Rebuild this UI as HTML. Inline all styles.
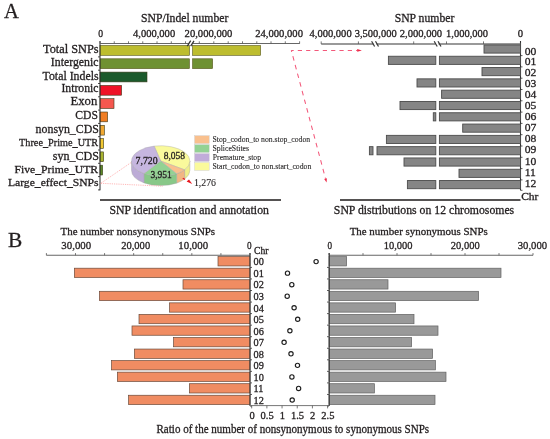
<!DOCTYPE html>
<html><head><meta charset="utf-8"><title>SNP figure</title>
<style>
html,body{margin:0;padding:0;background:#fff;}
body{width:550px;height:439px;overflow:hidden;}
svg{display:block;font-family:"Liberation Serif",serif;}
text{will-change:transform;stroke:#231f20;stroke-width:0.3px;}
</style></head>
<body>
<svg width="550" height="439" viewBox="0 0 550 439">
<rect x="0" y="0" width="550" height="439" fill="#ffffff"/>
<text x="4.04" y="18.40" font-size="21.7" text-anchor="start" textLength="14.85" lengthAdjust="spacingAndGlyphs" fill="#231f20">A</text>
<text x="8.13" y="247.00" font-size="21" text-anchor="start" textLength="14.27" lengthAdjust="spacingAndGlyphs" fill="#231f20">B</text>
<text x="140.97" y="21.50" font-size="12" text-anchor="start" textLength="87.39" lengthAdjust="spacingAndGlyphs" fill="#231f20">SNP/Indel number</text>
<text x="98.28" y="36.70" font-size="10" text-anchor="start" textLength="4.83" lengthAdjust="spacingAndGlyphs" fill="#231f20">0</text>
<text x="133.04" y="36.60" font-size="10" text-anchor="start" textLength="42.11" lengthAdjust="spacingAndGlyphs" fill="#231f20">4,000,000</text>
<text x="184.58" y="36.60" font-size="10" text-anchor="start" textLength="47.77" lengthAdjust="spacingAndGlyphs" fill="#231f20">20,000,000</text>
<text x="255.28" y="36.60" font-size="10" text-anchor="start" textLength="47.67" lengthAdjust="spacingAndGlyphs" fill="#231f20">24,000,000</text>
<text x="43.03" y="53.00" font-size="11.6" text-anchor="start" textLength="55.57" lengthAdjust="spacingAndGlyphs" fill="#231f20">Total SNPs</text>
<rect x="100.00" y="45.50" width="89.40" height="9.80" fill="#bdbd2f" stroke="#55551a" stroke-width="0.6"/>
<rect x="192.60" y="45.50" width="68.00" height="9.80" fill="#bdbd2f" stroke="#55551a" stroke-width="0.6"/>
<text x="50.82" y="66.30" font-size="12" text-anchor="start" textLength="47.69" lengthAdjust="spacingAndGlyphs" fill="#231f20">Intergenic</text>
<rect x="100.00" y="58.80" width="89.40" height="9.80" fill="#6f9132" stroke="#55551a" stroke-width="0.6"/>
<rect x="192.60" y="58.80" width="20.00" height="9.80" fill="#6f9132" stroke="#55551a" stroke-width="0.6"/>
<text x="42.54" y="79.80" font-size="11.6" text-anchor="start" textLength="56.04" lengthAdjust="spacingAndGlyphs" fill="#231f20">Total Indels</text>
<rect x="100.00" y="72.10" width="47.00" height="9.80" fill="#1b5a2c" stroke="#3a3a1a" stroke-width="0.6"/>
<text x="61.43" y="91.60" font-size="12" text-anchor="start" textLength="37.08" lengthAdjust="spacingAndGlyphs" fill="#231f20">Intronic</text>
<rect x="100.00" y="85.40" width="21.60" height="9.80" fill="#ee1327" stroke="#3a3a1a" stroke-width="0.6"/>
<text x="70.48" y="105.10" font-size="13.0" text-anchor="start" textLength="26.76" lengthAdjust="spacingAndGlyphs" fill="#231f20">Exon</text>
<rect x="100.00" y="98.70" width="14.00" height="9.80" fill="#f5574e" stroke="#3a3a1a" stroke-width="0.6"/>
<text x="75.27" y="119.20" font-size="12.8" text-anchor="start" textLength="22.60" lengthAdjust="spacingAndGlyphs" fill="#231f20">CDS</text>
<rect x="100.00" y="112.00" width="7.60" height="9.80" fill="#f07d22" stroke="#3a3a1a" stroke-width="0.6"/>
<text x="35.58" y="133.20" font-size="12" text-anchor="start" textLength="63.31" lengthAdjust="spacingAndGlyphs" fill="#231f20">nonsyn_CDS</text>
<rect x="100.00" y="125.30" width="4.40" height="9.80" fill="#f0a832" stroke="#3a3a1a" stroke-width="0.6"/>
<text x="19.07" y="146.30" font-size="11.2" text-anchor="start" textLength="79.10" lengthAdjust="spacingAndGlyphs" fill="#231f20">Three_Prime_UTR</text>
<rect x="100.00" y="138.60" width="3.60" height="9.80" fill="#f2c832" stroke="#3a3a1a" stroke-width="0.6"/>
<text x="52.76" y="159.60" font-size="12" text-anchor="start" textLength="46.15" lengthAdjust="spacingAndGlyphs" fill="#231f20">syn_CDS</text>
<rect x="100.00" y="151.90" width="3.60" height="9.80" fill="#a9b430" stroke="#3a3a1a" stroke-width="0.6"/>
<text x="14.41" y="173.00" font-size="11" text-anchor="start" textLength="83.74" lengthAdjust="spacingAndGlyphs" fill="#231f20">Five_Prime_UTR</text>
<rect x="100.00" y="165.20" width="2.60" height="9.80" fill="#5b8a28" stroke="#3a3a1a" stroke-width="0.6"/>
<text x="7.91" y="185.60" font-size="10.8" text-anchor="start" textLength="90.66" lengthAdjust="spacingAndGlyphs" fill="#231f20">Large_effect_SNPs</text>
<line x1="100.00" y1="41.00" x2="100.00" y2="190.30" stroke="#2a2a2a" stroke-width="1.0"/>
<line x1="100.00" y1="43.50" x2="189.00" y2="43.50" stroke="#666" stroke-width="1.2"/>
<line x1="193.00" y1="43.50" x2="299.80" y2="43.50" stroke="#666" stroke-width="1.2"/>
<line x1="100.00" y1="43.50" x2="100.00" y2="41.30" stroke="#555" stroke-width="0.8"/>
<line x1="114.25" y1="43.50" x2="114.25" y2="41.30" stroke="#555" stroke-width="0.8"/>
<line x1="128.50" y1="43.50" x2="128.50" y2="41.30" stroke="#555" stroke-width="0.8"/>
<line x1="142.75" y1="43.50" x2="142.75" y2="41.30" stroke="#555" stroke-width="0.8"/>
<line x1="157.00" y1="43.50" x2="157.00" y2="41.30" stroke="#555" stroke-width="0.8"/>
<line x1="171.30" y1="43.50" x2="171.30" y2="41.30" stroke="#555" stroke-width="0.8"/>
<line x1="185.50" y1="43.50" x2="185.50" y2="41.30" stroke="#555" stroke-width="0.8"/>
<line x1="199.30" y1="43.50" x2="199.30" y2="41.30" stroke="#555" stroke-width="0.8"/>
<line x1="213.80" y1="43.50" x2="213.80" y2="41.30" stroke="#555" stroke-width="0.8"/>
<line x1="228.20" y1="43.50" x2="228.20" y2="41.30" stroke="#555" stroke-width="0.8"/>
<line x1="242.50" y1="43.50" x2="242.50" y2="41.30" stroke="#555" stroke-width="0.8"/>
<line x1="256.80" y1="43.50" x2="256.80" y2="41.30" stroke="#555" stroke-width="0.8"/>
<line x1="271.00" y1="43.50" x2="271.00" y2="41.30" stroke="#555" stroke-width="0.8"/>
<line x1="285.30" y1="43.50" x2="285.30" y2="41.30" stroke="#555" stroke-width="0.8"/>
<line x1="299.60" y1="43.50" x2="299.60" y2="41.30" stroke="#555" stroke-width="0.8"/>
<line x1="187.30" y1="46.20" x2="190.70" y2="40.70" stroke="#333" stroke-width="1.25"/>
<line x1="190.70" y1="46.20" x2="194.00" y2="40.90" stroke="#333" stroke-width="1.25"/>
<line x1="98.00" y1="56.90" x2="100.00" y2="56.90" stroke="#222" stroke-width="0.8"/>
<line x1="98.00" y1="70.20" x2="100.00" y2="70.20" stroke="#222" stroke-width="0.8"/>
<line x1="98.00" y1="83.50" x2="100.00" y2="83.50" stroke="#222" stroke-width="0.8"/>
<line x1="98.00" y1="96.80" x2="100.00" y2="96.80" stroke="#222" stroke-width="0.8"/>
<line x1="98.00" y1="110.10" x2="100.00" y2="110.10" stroke="#222" stroke-width="0.8"/>
<line x1="98.00" y1="123.40" x2="100.00" y2="123.40" stroke="#222" stroke-width="0.8"/>
<line x1="98.00" y1="136.70" x2="100.00" y2="136.70" stroke="#222" stroke-width="0.8"/>
<line x1="98.00" y1="150.00" x2="100.00" y2="150.00" stroke="#222" stroke-width="0.8"/>
<line x1="98.00" y1="163.30" x2="100.00" y2="163.30" stroke="#222" stroke-width="0.8"/>
<line x1="98.00" y1="176.60" x2="100.00" y2="176.60" stroke="#222" stroke-width="0.8"/>
<line x1="98.00" y1="189.90" x2="100.00" y2="189.90" stroke="#222" stroke-width="0.8"/>
<text x="394.67" y="21.50" font-size="12" text-anchor="start" textLength="59.69" lengthAdjust="spacingAndGlyphs" fill="#231f20">SNP number</text>
<text x="309.54" y="36.60" font-size="10" text-anchor="start" textLength="42.11" lengthAdjust="spacingAndGlyphs" fill="#231f20">4,000,000</text>
<text x="354.75" y="36.60" font-size="10" text-anchor="start" textLength="41.90" lengthAdjust="spacingAndGlyphs" fill="#231f20">3,500,000</text>
<text x="399.78" y="36.60" font-size="10" text-anchor="start" textLength="42.37" lengthAdjust="spacingAndGlyphs" fill="#231f20">2,000,000</text>
<text x="446.13" y="36.60" font-size="10" text-anchor="start" textLength="41.82" lengthAdjust="spacingAndGlyphs" fill="#231f20">1,000,000</text>
<text x="517.75" y="36.80" font-size="10" text-anchor="start" textLength="5.31" lengthAdjust="spacingAndGlyphs" fill="#231f20">0</text>
<line x1="520.50" y1="41.00" x2="520.50" y2="190.30" stroke="#333" stroke-width="1.1"/>
<line x1="321.20" y1="44.00" x2="373.50" y2="44.00" stroke="#777" stroke-width="1.3"/>
<line x1="376.50" y1="44.00" x2="435.50" y2="44.00" stroke="#777" stroke-width="1.3"/>
<line x1="438.50" y1="44.00" x2="520.50" y2="44.00" stroke="#777" stroke-width="1.3"/>
<line x1="321.20" y1="44.00" x2="321.20" y2="41.40" stroke="#555" stroke-width="0.8"/>
<line x1="358.40" y1="44.00" x2="358.40" y2="41.40" stroke="#555" stroke-width="0.8"/>
<line x1="413.70" y1="44.00" x2="413.70" y2="41.40" stroke="#555" stroke-width="0.8"/>
<line x1="446.50" y1="44.00" x2="446.50" y2="41.40" stroke="#555" stroke-width="0.8"/>
<line x1="483.50" y1="44.00" x2="483.50" y2="41.40" stroke="#555" stroke-width="0.8"/>
<line x1="371.60" y1="41.30" x2="374.60" y2="46.50" stroke="#3a3a3a" stroke-width="1.25"/>
<line x1="375.50" y1="41.30" x2="378.50" y2="46.50" stroke="#3a3a3a" stroke-width="1.25"/>
<line x1="434.20" y1="41.30" x2="437.20" y2="46.50" stroke="#3a3a3a" stroke-width="1.25"/>
<line x1="438.00" y1="41.30" x2="441.00" y2="46.50" stroke="#3a3a3a" stroke-width="1.25"/>
<rect x="484.00" y="44.95" width="36.50" height="8.15" fill="#858585" stroke="#4c4c4c" stroke-width="0.9"/>
<text x="524.66" y="54.80" font-size="11.30" text-anchor="start" textLength="11.63" lengthAdjust="spacingAndGlyphs" fill="#231f20">00</text>
<rect x="388.40" y="56.25" width="47.40" height="8.15" fill="#858585" stroke="#4c4c4c" stroke-width="0.9"/>
<rect x="439.40" y="56.25" width="81.10" height="8.15" fill="#858585" stroke="#4c4c4c" stroke-width="0.9"/>
<text x="524.66" y="64.80" font-size="11.30" text-anchor="start" textLength="11.63" lengthAdjust="spacingAndGlyphs" fill="#231f20">01</text>
<line x1="520.50" y1="55.60" x2="522.50" y2="55.60" stroke="#333" stroke-width="0.8"/>
<rect x="482.00" y="67.55" width="38.50" height="8.15" fill="#858585" stroke="#4c4c4c" stroke-width="0.9"/>
<text x="524.66" y="75.60" font-size="11.30" text-anchor="start" textLength="11.63" lengthAdjust="spacingAndGlyphs" fill="#231f20">02</text>
<line x1="520.50" y1="66.90" x2="522.50" y2="66.90" stroke="#333" stroke-width="0.8"/>
<rect x="417.00" y="78.85" width="18.80" height="8.15" fill="#858585" stroke="#4c4c4c" stroke-width="0.9"/>
<rect x="439.40" y="78.85" width="81.10" height="8.15" fill="#858585" stroke="#4c4c4c" stroke-width="0.9"/>
<text x="524.66" y="86.60" font-size="11.30" text-anchor="start" textLength="11.63" lengthAdjust="spacingAndGlyphs" fill="#231f20">03</text>
<line x1="520.50" y1="78.20" x2="522.50" y2="78.20" stroke="#333" stroke-width="0.8"/>
<rect x="441.60" y="90.15" width="78.90" height="8.15" fill="#858585" stroke="#4c4c4c" stroke-width="0.9"/>
<text x="524.66" y="97.50" font-size="11.30" text-anchor="start" textLength="11.63" lengthAdjust="spacingAndGlyphs" fill="#231f20">04</text>
<line x1="520.50" y1="89.50" x2="522.50" y2="89.50" stroke="#333" stroke-width="0.8"/>
<rect x="400.00" y="101.45" width="35.80" height="8.15" fill="#858585" stroke="#4c4c4c" stroke-width="0.9"/>
<rect x="439.40" y="101.45" width="81.10" height="8.15" fill="#858585" stroke="#4c4c4c" stroke-width="0.9"/>
<text x="524.66" y="108.60" font-size="11.30" text-anchor="start" textLength="11.63" lengthAdjust="spacingAndGlyphs" fill="#231f20">05</text>
<line x1="520.50" y1="100.80" x2="522.50" y2="100.80" stroke="#333" stroke-width="0.8"/>
<rect x="433.30" y="112.75" width="2.50" height="8.15" fill="#858585" stroke="#4c4c4c" stroke-width="0.9"/>
<rect x="439.40" y="112.75" width="81.10" height="8.15" fill="#858585" stroke="#4c4c4c" stroke-width="0.9"/>
<text x="524.66" y="119.80" font-size="11.30" text-anchor="start" textLength="11.63" lengthAdjust="spacingAndGlyphs" fill="#231f20">06</text>
<line x1="520.50" y1="112.10" x2="522.50" y2="112.10" stroke="#333" stroke-width="0.8"/>
<rect x="462.70" y="124.05" width="57.80" height="8.15" fill="#858585" stroke="#4c4c4c" stroke-width="0.9"/>
<text x="524.66" y="130.70" font-size="11.30" text-anchor="start" textLength="11.63" lengthAdjust="spacingAndGlyphs" fill="#231f20">07</text>
<line x1="520.50" y1="123.40" x2="522.50" y2="123.40" stroke="#333" stroke-width="0.8"/>
<rect x="386.40" y="135.35" width="49.40" height="8.15" fill="#858585" stroke="#4c4c4c" stroke-width="0.9"/>
<rect x="439.40" y="135.35" width="81.10" height="8.15" fill="#858585" stroke="#4c4c4c" stroke-width="0.9"/>
<text x="524.66" y="142.20" font-size="11.30" text-anchor="start" textLength="11.63" lengthAdjust="spacingAndGlyphs" fill="#231f20">08</text>
<line x1="520.50" y1="134.70" x2="522.50" y2="134.70" stroke="#333" stroke-width="0.8"/>
<rect x="369.40" y="146.65" width="3.60" height="8.15" fill="#858585" stroke="#4c4c4c" stroke-width="0.9"/>
<rect x="377.00" y="146.65" width="58.80" height="8.15" fill="#858585" stroke="#4c4c4c" stroke-width="0.9"/>
<rect x="439.40" y="146.65" width="81.10" height="8.15" fill="#858585" stroke="#4c4c4c" stroke-width="0.9"/>
<text x="524.66" y="153.40" font-size="11.30" text-anchor="start" textLength="11.63" lengthAdjust="spacingAndGlyphs" fill="#231f20">09</text>
<line x1="520.50" y1="146.00" x2="522.50" y2="146.00" stroke="#333" stroke-width="0.8"/>
<rect x="404.00" y="157.95" width="31.80" height="8.15" fill="#858585" stroke="#4c4c4c" stroke-width="0.9"/>
<rect x="439.40" y="157.95" width="81.10" height="8.15" fill="#858585" stroke="#4c4c4c" stroke-width="0.9"/>
<text x="524.66" y="164.80" font-size="11.30" text-anchor="start" textLength="11.63" lengthAdjust="spacingAndGlyphs" fill="#231f20">10</text>
<line x1="520.50" y1="157.30" x2="522.50" y2="157.30" stroke="#333" stroke-width="0.8"/>
<rect x="459.00" y="169.25" width="61.50" height="8.15" fill="#858585" stroke="#4c4c4c" stroke-width="0.9"/>
<text x="524.66" y="176.20" font-size="11.30" text-anchor="start" textLength="11.20" lengthAdjust="spacingAndGlyphs" fill="#231f20">11</text>
<line x1="520.50" y1="168.60" x2="522.50" y2="168.60" stroke="#333" stroke-width="0.8"/>
<rect x="407.40" y="180.55" width="28.40" height="8.15" fill="#858585" stroke="#4c4c4c" stroke-width="0.9"/>
<rect x="439.40" y="180.55" width="81.10" height="8.15" fill="#858585" stroke="#4c4c4c" stroke-width="0.9"/>
<text x="524.66" y="187.20" font-size="11.30" text-anchor="start" textLength="11.63" lengthAdjust="spacingAndGlyphs" fill="#231f20">12</text>
<line x1="520.50" y1="179.90" x2="522.50" y2="179.90" stroke="#333" stroke-width="0.8"/>
<line x1="520.50" y1="190.30" x2="522.50" y2="190.30" stroke="#333" stroke-width="0.8"/>
<text x="521.18" y="200.00" font-size="11" text-anchor="start" textLength="17.28" lengthAdjust="spacingAndGlyphs" fill="#231f20">Chr</text>
<line x1="100.00" y1="200.00" x2="281.00" y2="200.00" stroke="#1c1819" stroke-width="1.7"/>
<line x1="340.00" y1="200.00" x2="520.50" y2="200.00" stroke="#1c1819" stroke-width="1.7"/>
<text x="109.46" y="214.00" font-size="12" text-anchor="start" textLength="159.46" lengthAdjust="spacingAndGlyphs" fill="#231f20">SNP identification and annotation</text>
<text x="333.86" y="213.80" font-size="12" text-anchor="start" textLength="180.32" lengthAdjust="spacingAndGlyphs" fill="#231f20">SNP distributions on 12 chromosomes</text>
<path d="M189.90,161.00 A29.2,15.3 0 0 1 184.59,169.80 L184.59,179.10 A29.2,15.3 0 0 0 189.90,170.30 Z" fill="#efef8c" stroke="#a0a0a0" stroke-width="0.4"/>
<path d="M184.59,169.80 A29.2,15.3 0 0 1 176.61,173.83 L176.61,183.13 A29.2,15.3 0 0 0 184.59,179.10 Z" fill="#f2b684" stroke="#a0a0a0" stroke-width="0.4"/>
<path d="M176.61,173.83 A29.2,15.3 0 0 1 144.08,173.58 L144.08,182.88 A29.2,15.3 0 0 0 176.61,183.13 Z" fill="#88c888" stroke="#a0a0a0" stroke-width="0.4"/>
<path d="M144.08,173.58 A29.2,15.3 0 0 1 131.50,161.00 L131.50,170.30 A29.2,15.3 0 0 0 144.08,182.88 Z" fill="#bcabd6" stroke="#a0a0a0" stroke-width="0.4"/>
<path d="M160.7,161.0 L154.13,146.09 A29.2,15.3 0 0 1 184.59,169.80 Z" fill="#fafa9c" stroke="#a8a8a8" stroke-width="0.4"/>
<path d="M160.7,161.0 L184.59,169.80 A29.2,15.3 0 0 1 176.61,173.83 Z" fill="#f9c08e" stroke="#a8a8a8" stroke-width="0.4"/>
<path d="M160.7,161.0 L176.61,173.83 A29.2,15.3 0 0 1 144.08,173.58 Z" fill="#93d293" stroke="#a8a8a8" stroke-width="0.4"/>
<path d="M160.7,161.0 L144.08,173.58 A29.2,15.3 0 0 1 154.13,146.09 Z" fill="#c6b6df" stroke="#a8a8a8" stroke-width="0.4"/>
<text x="135.60" y="163.50" font-size="10" text-anchor="start" textLength="22.02" lengthAdjust="spacingAndGlyphs" fill="#231f20">7,720</text>
<text x="163.69" y="159.30" font-size="10" text-anchor="start" textLength="21.42" lengthAdjust="spacingAndGlyphs" fill="#231f20">8,058</text>
<text x="150.39" y="177.60" font-size="10" text-anchor="start" textLength="21.43" lengthAdjust="spacingAndGlyphs" fill="#231f20">3,951</text>
<text x="193.88" y="185.80" font-size="10" text-anchor="start" textLength="22.16" lengthAdjust="spacingAndGlyphs" fill="#231f20" style="stroke-width:0.1px">1,276</text>
<rect x="194.60" y="135.70" width="14.60" height="7.80" fill="#f9c08e" stroke="#c8c8c8" stroke-width="0.4"/>
<text x="212.53" y="141.80" font-size="8.8" text-anchor="start" textLength="97.64" lengthAdjust="spacingAndGlyphs" fill="#2a2a2a" style="stroke-width:0.12px">Stop_codon_to non.stop_codon</text>
<rect x="194.60" y="144.65" width="14.60" height="7.80" fill="#93d293" stroke="#c8c8c8" stroke-width="0.4"/>
<text x="212.53" y="150.70" font-size="8.8" text-anchor="start" textLength="36.50" lengthAdjust="spacingAndGlyphs" fill="#2a2a2a" style="stroke-width:0.12px">SpliceStites</text>
<rect x="194.60" y="153.60" width="14.60" height="7.80" fill="#c1acd9" stroke="#c8c8c8" stroke-width="0.4"/>
<text x="212.83" y="159.60" font-size="8.8" text-anchor="start" textLength="48.23" lengthAdjust="spacingAndGlyphs" fill="#2a2a2a" style="stroke-width:0.12px">Premature_stop</text>
<rect x="194.60" y="162.55" width="14.60" height="7.80" fill="#fafa9c" stroke="#c8c8c8" stroke-width="0.4"/>
<text x="212.53" y="168.50" font-size="8.8" text-anchor="start" textLength="98.83" lengthAdjust="spacingAndGlyphs" fill="#2a2a2a" style="stroke-width:0.12px">Start_codon_to non.start_codon</text>
<path d="M100.8,183.3 L131.3,162.4 M100.8,183.3 L163,186.2" stroke="#ff9a9a" stroke-width="0.7" stroke-dasharray="1.2,1" fill="none"/>
<path d="M182.8,178.2 L185,179.6" stroke="#e8141c" stroke-width="1.2" fill="none"/>
<path d="M186.6,181.6 L192.2,184.0 L189.0,179.6 Z" fill="#e8141c"/>
<path d="M291.3,50.4 L357.5,50.4" stroke="#f3587a" stroke-width="1.05" stroke-dasharray="4.2,4.13" stroke-dashoffset="1.83" fill="none"/>
<path d="M357.2,49.0 L361.9,50.4 L357.2,51.8 Z" fill="#ee2a48"/>
<path d="M291.3,50.4 L325.52,178.54" stroke="#f3587a" stroke-width="1.05" stroke-dasharray="4.6,4.37" stroke-dashoffset="2.97" fill="none"/>
<path d="M326.87,178.18 L326.6,182.6 L324.16,178.90 Z" fill="#ee2a48"/>
<text x="60.55" y="234.80" font-size="10.6" text-anchor="start" textLength="154.59" lengthAdjust="spacingAndGlyphs" fill="#231f20">The number nonsynonymous SNPs</text>
<text x="61.33" y="248.80" font-size="11" text-anchor="start" textLength="29.83" lengthAdjust="spacingAndGlyphs" fill="#231f20">30,000</text>
<text x="121.19" y="248.80" font-size="11" text-anchor="start" textLength="28.96" lengthAdjust="spacingAndGlyphs" fill="#231f20">20,000</text>
<text x="178.29" y="248.80" font-size="11" text-anchor="start" textLength="29.87" lengthAdjust="spacingAndGlyphs" fill="#231f20">10,000</text>
<text x="246.90" y="248.80" font-size="10.5" text-anchor="start" textLength="4.60" lengthAdjust="spacingAndGlyphs" fill="#231f20">0</text>
<text x="254.05" y="253.90" font-size="10" text-anchor="start" textLength="14.48" lengthAdjust="spacingAndGlyphs" fill="#231f20">Chr</text>
<rect x="218.00" y="256.65" width="32.00" height="9.30" fill="#f08c62" stroke="#6b4a3a" stroke-width="0.7"/>
<rect x="329.00" y="256.65" width="17.60" height="9.30" fill="#999999" stroke="#626262" stroke-width="0.7"/>
<text x="253.61" y="265.40" font-size="10.80" text-anchor="start" textLength="10.28" lengthAdjust="spacingAndGlyphs" fill="#231f20">00</text>
<circle cx="316.10" cy="261.60" r="2.15" fill="none" stroke="#1e1e1e" stroke-width="1.15"/>
<line x1="250.00" y1="267.40" x2="252.00" y2="267.40" stroke="#333" stroke-width="0.8"/>
<line x1="327.00" y1="267.40" x2="329.00" y2="267.40" stroke="#333" stroke-width="0.8"/>
<rect x="74.40" y="268.20" width="175.60" height="9.30" fill="#f08c62" stroke="#6b4a3a" stroke-width="0.7"/>
<rect x="329.00" y="268.20" width="172.00" height="9.30" fill="#999999" stroke="#626262" stroke-width="0.7"/>
<text x="253.61" y="276.93" font-size="10.80" text-anchor="start" textLength="10.28" lengthAdjust="spacingAndGlyphs" fill="#231f20">01</text>
<circle cx="287.50" cy="273.13" r="2.15" fill="none" stroke="#1e1e1e" stroke-width="1.15"/>
<line x1="250.00" y1="278.95" x2="252.00" y2="278.95" stroke="#333" stroke-width="0.8"/>
<line x1="327.00" y1="278.95" x2="329.00" y2="278.95" stroke="#333" stroke-width="0.8"/>
<rect x="183.00" y="279.75" width="67.00" height="9.30" fill="#f08c62" stroke="#6b4a3a" stroke-width="0.7"/>
<rect x="329.00" y="279.75" width="59.00" height="9.30" fill="#999999" stroke="#626262" stroke-width="0.7"/>
<text x="253.61" y="288.46" font-size="10.80" text-anchor="start" textLength="10.28" lengthAdjust="spacingAndGlyphs" fill="#231f20">02</text>
<circle cx="291.80" cy="284.66" r="2.15" fill="none" stroke="#1e1e1e" stroke-width="1.15"/>
<line x1="250.00" y1="290.50" x2="252.00" y2="290.50" stroke="#333" stroke-width="0.8"/>
<line x1="327.00" y1="290.50" x2="329.00" y2="290.50" stroke="#333" stroke-width="0.8"/>
<rect x="99.40" y="291.30" width="150.60" height="9.30" fill="#f08c62" stroke="#6b4a3a" stroke-width="0.7"/>
<rect x="329.00" y="291.30" width="149.60" height="9.30" fill="#999999" stroke="#626262" stroke-width="0.7"/>
<text x="253.61" y="299.99" font-size="10.80" text-anchor="start" textLength="10.28" lengthAdjust="spacingAndGlyphs" fill="#231f20">03</text>
<circle cx="287.20" cy="296.19" r="2.15" fill="none" stroke="#1e1e1e" stroke-width="1.15"/>
<line x1="250.00" y1="302.05" x2="252.00" y2="302.05" stroke="#333" stroke-width="0.8"/>
<line x1="327.00" y1="302.05" x2="329.00" y2="302.05" stroke="#333" stroke-width="0.8"/>
<rect x="169.60" y="302.85" width="80.40" height="9.30" fill="#f08c62" stroke="#6b4a3a" stroke-width="0.7"/>
<rect x="329.00" y="302.85" width="66.60" height="9.30" fill="#999999" stroke="#626262" stroke-width="0.7"/>
<text x="253.61" y="311.52" font-size="10.80" text-anchor="start" textLength="10.28" lengthAdjust="spacingAndGlyphs" fill="#231f20">04</text>
<circle cx="294.10" cy="307.72" r="2.15" fill="none" stroke="#1e1e1e" stroke-width="1.15"/>
<line x1="250.00" y1="313.60" x2="252.00" y2="313.60" stroke="#333" stroke-width="0.8"/>
<line x1="327.00" y1="313.60" x2="329.00" y2="313.60" stroke="#333" stroke-width="0.8"/>
<rect x="139.00" y="314.40" width="111.00" height="9.30" fill="#f08c62" stroke="#6b4a3a" stroke-width="0.7"/>
<rect x="329.00" y="314.40" width="85.00" height="9.30" fill="#999999" stroke="#626262" stroke-width="0.7"/>
<text x="253.61" y="323.05" font-size="10.80" text-anchor="start" textLength="10.28" lengthAdjust="spacingAndGlyphs" fill="#231f20">05</text>
<circle cx="297.70" cy="319.25" r="2.15" fill="none" stroke="#1e1e1e" stroke-width="1.15"/>
<line x1="250.00" y1="325.15" x2="252.00" y2="325.15" stroke="#333" stroke-width="0.8"/>
<line x1="327.00" y1="325.15" x2="329.00" y2="325.15" stroke="#333" stroke-width="0.8"/>
<rect x="132.00" y="325.95" width="118.00" height="9.30" fill="#f08c62" stroke="#6b4a3a" stroke-width="0.7"/>
<rect x="329.00" y="325.95" width="109.00" height="9.30" fill="#999999" stroke="#626262" stroke-width="0.7"/>
<text x="253.61" y="334.58" font-size="10.80" text-anchor="start" textLength="10.28" lengthAdjust="spacingAndGlyphs" fill="#231f20">06</text>
<circle cx="289.90" cy="330.78" r="2.15" fill="none" stroke="#1e1e1e" stroke-width="1.15"/>
<line x1="250.00" y1="336.70" x2="252.00" y2="336.70" stroke="#333" stroke-width="0.8"/>
<line x1="327.00" y1="336.70" x2="329.00" y2="336.70" stroke="#333" stroke-width="0.8"/>
<rect x="173.60" y="337.50" width="76.40" height="9.30" fill="#f08c62" stroke="#6b4a3a" stroke-width="0.7"/>
<rect x="329.00" y="337.50" width="82.60" height="9.30" fill="#999999" stroke="#626262" stroke-width="0.7"/>
<text x="253.61" y="346.11" font-size="10.80" text-anchor="start" textLength="10.28" lengthAdjust="spacingAndGlyphs" fill="#231f20">07</text>
<circle cx="284.10" cy="342.31" r="2.15" fill="none" stroke="#1e1e1e" stroke-width="1.15"/>
<line x1="250.00" y1="348.25" x2="252.00" y2="348.25" stroke="#333" stroke-width="0.8"/>
<line x1="327.00" y1="348.25" x2="329.00" y2="348.25" stroke="#333" stroke-width="0.8"/>
<rect x="134.40" y="349.05" width="115.60" height="9.30" fill="#f08c62" stroke="#6b4a3a" stroke-width="0.7"/>
<rect x="329.00" y="349.05" width="103.60" height="9.30" fill="#999999" stroke="#626262" stroke-width="0.7"/>
<text x="253.61" y="357.64" font-size="10.80" text-anchor="start" textLength="10.28" lengthAdjust="spacingAndGlyphs" fill="#231f20">08</text>
<circle cx="291.00" cy="353.84" r="2.15" fill="none" stroke="#1e1e1e" stroke-width="1.15"/>
<line x1="250.00" y1="359.80" x2="252.00" y2="359.80" stroke="#333" stroke-width="0.8"/>
<line x1="327.00" y1="359.80" x2="329.00" y2="359.80" stroke="#333" stroke-width="0.8"/>
<rect x="111.60" y="360.60" width="138.40" height="9.30" fill="#f08c62" stroke="#6b4a3a" stroke-width="0.7"/>
<rect x="329.00" y="360.60" width="106.40" height="9.30" fill="#999999" stroke="#626262" stroke-width="0.7"/>
<text x="253.61" y="369.17" font-size="10.80" text-anchor="start" textLength="10.28" lengthAdjust="spacingAndGlyphs" fill="#231f20">09</text>
<circle cx="297.50" cy="365.37" r="2.15" fill="none" stroke="#1e1e1e" stroke-width="1.15"/>
<line x1="250.00" y1="371.35" x2="252.00" y2="371.35" stroke="#333" stroke-width="0.8"/>
<line x1="327.00" y1="371.35" x2="329.00" y2="371.35" stroke="#333" stroke-width="0.8"/>
<rect x="117.40" y="372.15" width="132.60" height="9.30" fill="#f08c62" stroke="#6b4a3a" stroke-width="0.7"/>
<rect x="329.00" y="372.15" width="117.00" height="9.30" fill="#999999" stroke="#626262" stroke-width="0.7"/>
<text x="253.61" y="380.70" font-size="10.80" text-anchor="start" textLength="10.28" lengthAdjust="spacingAndGlyphs" fill="#231f20">10</text>
<circle cx="291.90" cy="376.90" r="2.15" fill="none" stroke="#1e1e1e" stroke-width="1.15"/>
<line x1="250.00" y1="382.90" x2="252.00" y2="382.90" stroke="#333" stroke-width="0.8"/>
<line x1="327.00" y1="382.90" x2="329.00" y2="382.90" stroke="#333" stroke-width="0.8"/>
<rect x="189.40" y="383.70" width="60.60" height="9.30" fill="#f08c62" stroke="#6b4a3a" stroke-width="0.7"/>
<rect x="329.00" y="383.70" width="45.40" height="9.30" fill="#999999" stroke="#626262" stroke-width="0.7"/>
<text x="253.61" y="392.23" font-size="10.80" text-anchor="start" textLength="9.90" lengthAdjust="spacingAndGlyphs" fill="#231f20">11</text>
<circle cx="298.60" cy="388.43" r="2.15" fill="none" stroke="#1e1e1e" stroke-width="1.15"/>
<line x1="250.00" y1="394.45" x2="252.00" y2="394.45" stroke="#333" stroke-width="0.8"/>
<line x1="327.00" y1="394.45" x2="329.00" y2="394.45" stroke="#333" stroke-width="0.8"/>
<rect x="128.60" y="395.25" width="121.40" height="9.30" fill="#f08c62" stroke="#6b4a3a" stroke-width="0.7"/>
<rect x="329.00" y="395.25" width="106.00" height="9.30" fill="#999999" stroke="#626262" stroke-width="0.7"/>
<text x="253.61" y="403.76" font-size="10.80" text-anchor="start" textLength="10.28" lengthAdjust="spacingAndGlyphs" fill="#231f20">12</text>
<circle cx="292.20" cy="399.96" r="2.15" fill="none" stroke="#1e1e1e" stroke-width="1.15"/>
<line x1="250.00" y1="406.00" x2="252.00" y2="406.00" stroke="#333" stroke-width="0.8"/>
<line x1="327.00" y1="406.00" x2="329.00" y2="406.00" stroke="#333" stroke-width="0.8"/>
<line x1="46.40" y1="255.30" x2="250.00" y2="255.30" stroke="#666" stroke-width="1.1"/>
<line x1="46.40" y1="255.30" x2="46.40" y2="253.10" stroke="#555" stroke-width="0.8"/>
<line x1="75.49" y1="255.30" x2="75.49" y2="253.10" stroke="#555" stroke-width="0.8"/>
<line x1="104.57" y1="255.30" x2="104.57" y2="253.10" stroke="#555" stroke-width="0.8"/>
<line x1="133.66" y1="255.30" x2="133.66" y2="253.10" stroke="#555" stroke-width="0.8"/>
<line x1="162.74" y1="255.30" x2="162.74" y2="253.10" stroke="#555" stroke-width="0.8"/>
<line x1="191.83" y1="255.30" x2="191.83" y2="253.10" stroke="#555" stroke-width="0.8"/>
<line x1="220.91" y1="255.30" x2="220.91" y2="253.10" stroke="#555" stroke-width="0.8"/>
<line x1="250.00" y1="255.30" x2="250.00" y2="253.10" stroke="#555" stroke-width="0.8"/>
<line x1="250.00" y1="253.00" x2="250.00" y2="406.00" stroke="#333" stroke-width="1.1"/>
<line x1="250.00" y1="405.60" x2="329.00" y2="405.60" stroke="#777" stroke-width="1.0"/>
<line x1="251.70" y1="405.60" x2="251.70" y2="408.40" stroke="#555" stroke-width="0.8"/>
<text x="252.00" y="419.00" font-size="10.5" text-anchor="middle" fill="#231f20">0</text>
<line x1="266.88" y1="405.60" x2="266.88" y2="408.40" stroke="#555" stroke-width="0.8"/>
<text x="267.18" y="419.00" font-size="10.5" text-anchor="middle" fill="#231f20">0.5</text>
<line x1="282.06" y1="405.60" x2="282.06" y2="408.40" stroke="#555" stroke-width="0.8"/>
<text x="282.36" y="419.00" font-size="10.5" text-anchor="middle" fill="#231f20">1</text>
<line x1="297.24" y1="405.60" x2="297.24" y2="408.40" stroke="#555" stroke-width="0.8"/>
<text x="297.54" y="419.00" font-size="10.5" text-anchor="middle" fill="#231f20">1.5</text>
<line x1="312.42" y1="405.60" x2="312.42" y2="408.40" stroke="#555" stroke-width="0.8"/>
<text x="312.72" y="419.00" font-size="10.5" text-anchor="middle" fill="#231f20">2</text>
<line x1="327.60" y1="405.60" x2="327.60" y2="408.40" stroke="#555" stroke-width="0.8"/>
<text x="327.90" y="419.00" font-size="10.5" text-anchor="middle" fill="#231f20">2.5</text>
<text x="349.65" y="234.80" font-size="10.6" text-anchor="start" textLength="138.19" lengthAdjust="spacingAndGlyphs" fill="#231f20">The number synonymous SNPs</text>
<text x="327.50" y="248.80" font-size="10.5" text-anchor="start" textLength="4.60" lengthAdjust="spacingAndGlyphs" fill="#231f20">0</text>
<text x="383.73" y="248.80" font-size="11" text-anchor="start" textLength="28.82" lengthAdjust="spacingAndGlyphs" fill="#231f20">10,000</text>
<text x="450.79" y="248.80" font-size="11" text-anchor="start" textLength="28.96" lengthAdjust="spacingAndGlyphs" fill="#231f20">20,000</text>
<text x="517.74" y="248.80" font-size="11" text-anchor="start" textLength="29.42" lengthAdjust="spacingAndGlyphs" fill="#231f20">30,000</text>
<line x1="329.00" y1="255.30" x2="533.00" y2="255.30" stroke="#666" stroke-width="1.1"/>
<line x1="329.00" y1="255.30" x2="329.00" y2="253.10" stroke="#555" stroke-width="0.8"/>
<line x1="363.00" y1="255.30" x2="363.00" y2="253.10" stroke="#555" stroke-width="0.8"/>
<line x1="397.00" y1="255.30" x2="397.00" y2="253.10" stroke="#555" stroke-width="0.8"/>
<line x1="431.00" y1="255.30" x2="431.00" y2="253.10" stroke="#555" stroke-width="0.8"/>
<line x1="465.00" y1="255.30" x2="465.00" y2="253.10" stroke="#555" stroke-width="0.8"/>
<line x1="499.00" y1="255.30" x2="499.00" y2="253.10" stroke="#555" stroke-width="0.8"/>
<line x1="533.00" y1="255.30" x2="533.00" y2="253.10" stroke="#555" stroke-width="0.8"/>
<line x1="329.20" y1="253.00" x2="329.20" y2="406.00" stroke="#333" stroke-width="1.1"/>
<text x="156.53" y="433.00" font-size="12" text-anchor="start" textLength="272.62" lengthAdjust="spacingAndGlyphs" fill="#231f20">Ratio of the number of nonsynonymous to synonymous SNPs</text>
</svg>
</body></html>
